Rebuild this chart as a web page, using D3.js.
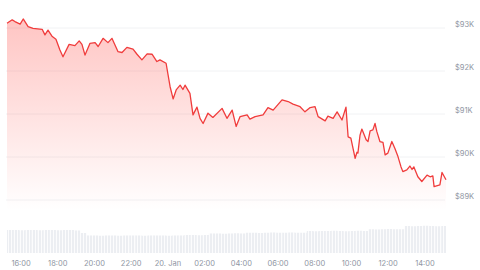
<!DOCTYPE html>
<html><head><meta charset="utf-8">
<script src="https://cdn.jsdelivr.net/npm/d3@7"></script>
<style>html,body{margin:0;padding:0;background:#fff;}svg{display:block;font-family:Inter,"Noto Sans",sans-serif;}</style>
</head><body><svg id="c" width="480" height="270"></svg>
<script>
// Price series: times (Jan 19 -> Jan 20) and BTC price in USD
const times = ["19 15:14","19 15:31","19 15:40","19 15:57","19 16:07","19 16:23","19 16:39","19 17:09","19 17:18","19 17:28","19 17:41","19 17:54","19 18:07","19 18:17","19 18:37","19 18:56","19 19:10","19 19:19","19 19:29","19 19:45","19 20:02","19 20:12","19 20:28","19 20:44","19 20:57","19 21:17","19 21:30","19 21:46","19 22:06","19 22:19","19 22:35","19 22:52","19 23:08","19 23:24","19 23:34","19 23:54","20 00:07","20 00:17","20 00:27","20 00:40","20 00:49","20 00:56","20 01:12","20 01:22","20 01:35","20 01:45","20 01:55","20 02:11","20 02:27","20 02:57","20 03:13","20 03:30","20 03:43","20 03:56","20 04:19","20 04:28","20 04:45","20 05:11","20 05:27","20 05:44","20 06:13","20 06:33","20 06:49","20 07:12","20 07:28","20 07:45","20 08:01","20 08:11","20 08:34","20 08:43","20 09:00","20 09:13","20 09:29","20 09:42","20 09:49","20 09:58","20 10:12","20 10:18","20 10:21","20 10:28","20 10:34","20 10:48","20 10:54","20 11:01","20 11:10","20 11:17","20 11:23","20 11:33","20 11:43","20 11:50","20 11:59","20 12:12","20 12:22","20 12:32","20 12:42","20 12:48","20 13:01","20 13:11","20 13:18","20 13:24","20 13:37","20 13:50","20 14:07","20 14:17","20 14:26","20 14:30","20 14:49","20 14:56","20 15:09"];
const prices = [93110,93190,93150,93090,93210,93030,92990,92970,92840,92950,92810,92740,92490,92330,92620,92590,92700,92620,92370,92640,92660,92570,92760,92660,92760,92450,92430,92550,92510,92390,92260,92400,92390,92220,92260,92180,91640,91350,91560,91670,91570,91670,91480,90980,91160,90900,90780,91020,90920,91130,90900,91090,90710,90940,90980,90880,90940,90980,91150,91090,91330,91290,91230,91170,91050,91150,91170,90940,90840,90950,90900,91050,90860,91160,90470,90440,89970,90110,90090,90510,90650,90400,90360,90610,90630,90780,90590,90360,90340,90050,90090,90360,90200,90010,89770,89660,89700,89790,89710,89770,89540,89430,89580,89540,89560,89310,89350,89640,89470];
// Trading volume bars (arbitrary units, $B), one every 20 minutes from 15:14
const volumes = [46,46,45.5,46,46,45.5,46,46,45.5,46,46,45,40,35,35,34.5,35,35,34.5,35,35,35,34.5,35,35,35,34.5,35,35,36,36,35.5,36,39,39,38.5,39,39.5,39,40.5,40.5,40,40.5,41,40.5,40.5,41,40.5,40.5,44,43.5,44,44,44.5,44,43.5,44,44.5,44,47.5,47,47.5,48,47.5,47.5,54,53.5,54,54.5,54,53.5,54];
const yTicks = [89000,90000,91000,92000,93000];
const yTickLabels = ["$89K","$90K","$91K","$92K","$93K"];

const parse = d3.timeParse("%Y-%m-%d %H:%M");
const toDate = s => parse("2025-01-" + s);
const data = times.map((t,i)=>({t:toDate(t), p:prices[i]}));
const t0 = data[0].t, t1 = data[data.length-1].t;

const svg = d3.select("#c");
const x = d3.scaleTime().domain([t0,t1]).range([7,446]);
const y = d3.scaleLinear().domain([89000,93000]).range([200,28]);

// gridlines
svg.append("g").selectAll("line").data(yTicks).join("line")
  .attr("x1",6).attr("x2",445).attr("y1",d=>y(d)).attr("y2",d=>y(d))
  .attr("stroke","#f1f2f4").attr("stroke-width",1);

// y labels
svg.append("g").selectAll("text").data(yTicks).join("text")
  .attr("x",455).attr("y",d=>y(d)-4).attr("dy","0.35em")
  .attr("font-size",7.5).attr("fill","#8f96a3")
  .text((d,i)=>yTickLabels[i]);

const defs = svg.append("defs");
const g = defs.append("linearGradient").attr("id","ag").attr("x1",0).attr("x2",0)
  .attr("gradientUnits","userSpaceOnUse").attr("y1",20).attr("y2",210);
g.append("stop").attr("offset","0%").attr("stop-color","#ff4a44").attr("stop-opacity",0.32);
g.append("stop").attr("offset","100%").attr("stop-color","#ff4a44").attr("stop-opacity",0);

// striped pattern for volume bars
const pat = defs.append("pattern").attr("id","vp").attr("patternUnits","userSpaceOnUse")
  .attr("width",3).attr("height",10);
pat.append("rect").attr("width",2.2).attr("height",10).attr("fill","#eceef2");

// volume bars
const vStep = 20*60*1000;
const vx = i => x(new Date(+t0 + i*vStep));
const vy = d3.scaleLinear().domain([0,54]).range([253,226]);
svg.append("g").selectAll("rect").data(volumes).join("rect")
  .attr("x",(d,i)=>vx(i)).attr("width",(d,i)=>Math.max(0,Math.min(vx(i+1),446)-vx(i)))
  .attr("y",d=>vy(d)).attr("height",d=>253-vy(d))
  .attr("fill","url(#vp)");

// area + line
svg.append("path").datum(data)
  .attr("d",d3.area().x(d=>x(d.t)).y0(210).y1(d=>y(d.p)))
  .attr("fill","url(#ag)");
svg.append("path").datum(data)
  .attr("d",d3.line().x(d=>x(d.t)).y(d=>y(d.p)))
  .attr("fill","none").attr("stroke","#f03c3c").attr("stroke-width",1.3).attr("stroke-linejoin","round");

// x axis labels
const xt = d3.timeHour.every(2).range(t0,t1);
const fmt = d => (d.getHours()===0 ? d3.timeFormat("%-d. %b")(d) : d3.timeFormat("%H:%M")(d));
svg.append("g").selectAll("text").data(xt).join("text")
  .attr("x",d=>x(d)).attr("y",263).attr("dy","0.35em").attr("text-anchor","middle")
  .attr("font-size",7.5).attr("fill","#8f96a3").text(fmt);
</script></body></html>
